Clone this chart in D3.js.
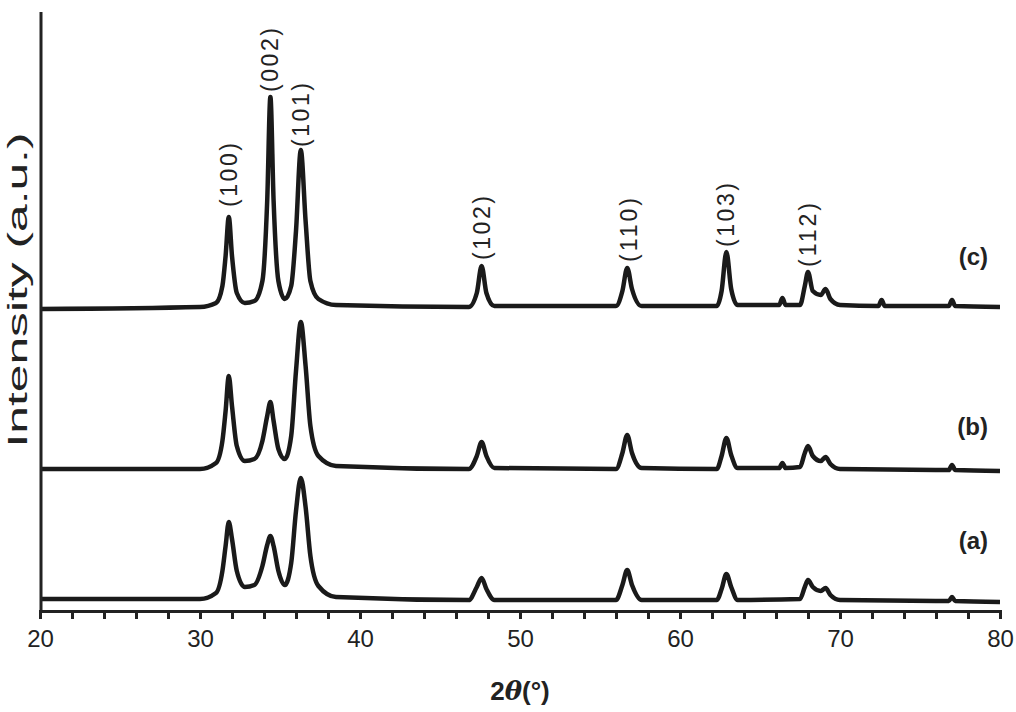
<!DOCTYPE html>
<html><head><meta charset="utf-8">
<script src="https://cdn.jsdelivr.net/npm/d3@7"></script>
<style>body{margin:0;background:#fff}text{font-family:"Liberation Sans",Arial,sans-serif;fill:#222}</style>
</head><body><div id="chart"></div>
<script>
// intensity (a.u.), 1 unit ~ 1px above axis
var seriesC = [[20,302],[30,304],[31,308],[31.4,325],[31.6,355],[31.8,394],[32.0,355],[32.3,318],[32.8,308],[33.4,310],[33.9,330],[34.2,410],[34.4,514],[34.6,410],[34.9,330],[35.3,312],[35.7,325],[36.0,380],[36.3,461],[36.6,390],[36.9,330],[37.4,312],[38.5,306],[46.8,304],[47.3,318],[47.6,345],[47.9,318],[48.4,305],[56,305],[56.4,320],[56.7,343],[57.0,322],[57.6,305],[62.3,305],[62.6,320],[62.9,359],[63.2,322],[63.6,306],[66.2,306],[66.4,313],[66.6,306],[67.5,306],[67.8,325],[68.0,339],[68.3,320],[68.8,316],[69.1,322],[69.4,312],[70,306],[72.4,305],[72.6,311],[72.8,305],[76.8,305],[77,311],[77.2,305],[80,304]];
var seriesB = [[20,142],[30,142],[31,148],[31.4,170],[31.6,200],[31.8,235],[32.0,205],[32.3,165],[32.8,150],[33.4,152],[33.9,170],[34.2,195],[34.4,209],[34.6,190],[34.9,162],[35.3,152],[35.7,175],[36.0,240],[36.3,289],[36.6,245],[36.9,185],[37.4,155],[38.5,145],[46.8,142],[47.3,155],[47.6,169],[47.9,155],[48.4,143],[56,142],[56.4,158],[56.7,176],[57.0,158],[57.6,143],[62.3,142],[62.6,155],[62.9,173],[63.2,156],[63.6,143],[66.2,143],[66.4,148],[66.6,143],[67.5,144],[67.8,158],[68.0,165],[68.3,155],[68.8,150],[69.1,154],[69.4,147],[70,142],[76.8,141],[77,146],[77.2,141],[80,140]];
var seriesA = [[20,12],[30,12],[31,18],[31.4,40],[31.6,65],[31.8,89],[32.0,72],[32.3,40],[32.8,24],[33.4,26],[33.9,45],[34.2,66],[34.4,75],[34.6,65],[34.9,40],[35.3,26],[35.7,48],[36.0,100],[36.3,133],[36.6,104],[36.9,55],[37.4,25],[38.5,14],[46.8,11],[47.3,24],[47.6,33],[47.9,22],[48.4,11],[56,11],[56.4,26],[56.7,41],[57.0,26],[57.6,11],[62.3,11],[62.6,22],[62.9,37],[63.2,24],[63.6,11],[67.5,12],[67.8,24],[68.0,31],[68.3,24],[68.8,20],[69.1,23],[69.4,16],[70,11],[76.8,10],[77,14],[77.2,10],[80,9]];
var series = [seriesA, seriesB, seriesC];
var seriesNames = ["(a)", "(b)", "(c)"];
var seriesLabelY = [62, 176, 346];
var peakNames = ["(100)", "(002)", "(101)", "(102)", "(110)", "(103)", "(112)"];
var peakPos = [31.8, 34.4, 36.3, 47.6, 56.8, 62.9, 68.0];
var peakLabelY = [404, 519, 464, 351, 349, 364, 344];
var xTicks = [20, 30, 40, 50, 60, 70, 80];

var width = 1016, height = 712;
var svg = d3.select("#chart").append("svg").attr("width", width).attr("height", height);

var x = d3.scaleLinear().domain([20, 80]).range([40, 1000]);
var y = d3.scaleLinear().domain([0, 600]).range([611, 11]);

var line = d3.line().x(function(d) {return x(d[0])}).y(function(d) {return y(d[1])}).curve(d3.curveMonotoneX);

svg.selectAll("path.trace").data(series).enter().append("path")
    .attr("class", "trace")
    .attr("d", line)
    .attr("fill", "none")
    .attr("stroke", "#1a1a1a")
    .attr("stroke-width", 4.5)
    .attr("stroke-linejoin", "round");

var xAxis = d3.axisBottom(x).tickValues(d3.range(20, 81, 2)).tickSize(8)
    .tickFormat(function(d) {return xTicks.indexOf(d) > -1 ? d : ""});
var gx = svg.append("g").attr("transform", "translate(0," + y(0) + ")").call(xAxis);
gx.select(".domain").attr("stroke", "#222").attr("stroke-width", 3);
gx.selectAll(".tick line").attr("stroke", "#222").attr("stroke-width", 3);
gx.selectAll(".tick text").attr("font-size", 24).attr("dy", "1.05em").attr("fill", "#222");

svg.append("line").attr("x1", 41).attr("x2", 41).attr("y1", 12).attr("y2", y(0))
    .attr("stroke", "#222").attr("stroke-width", 3);

svg.selectAll("text.peak").data(peakNames).enter().append("text")
    .attr("class", "peak")
    .attr("transform", function(d, i) {return "translate(" + (x(peakPos[i]) + 8) + "," + y(peakLabelY[i]) + ") rotate(-90)"})
    .attr("font-size", 23)
    .attr("textLength", 64).attr("lengthAdjust", "spacing")
    .text(function(d) {return d});

svg.selectAll("text.sname").data(seriesNames).enter().append("text")
    .attr("class", "sname")
    .attr("x", 988).attr("y", function(d, i) {return y(seriesLabelY[i])})
    .attr("text-anchor", "end").attr("font-size", 24).attr("font-weight", "bold")
    .text(function(d) {return d});

var xl = svg.append("text").attr("x", 520).attr("y", 700).attr("text-anchor", "middle")
    .attr("font-size", 26).attr("font-weight", "bold");
xl.append("tspan").text("2");
xl.append("tspan").attr("font-style", "italic").attr("font-family", "DejaVu Serif").text("θ");
xl.append("tspan").text("(°)");

svg.append("text").attr("transform", "translate(27,290) rotate(-90)").attr("text-anchor", "middle")
    .attr("font-size", 27).attr("textLength", 315).attr("lengthAdjust", "spacingAndGlyphs")
    .text("Intensity (a.u.)");
</script></body></html>
